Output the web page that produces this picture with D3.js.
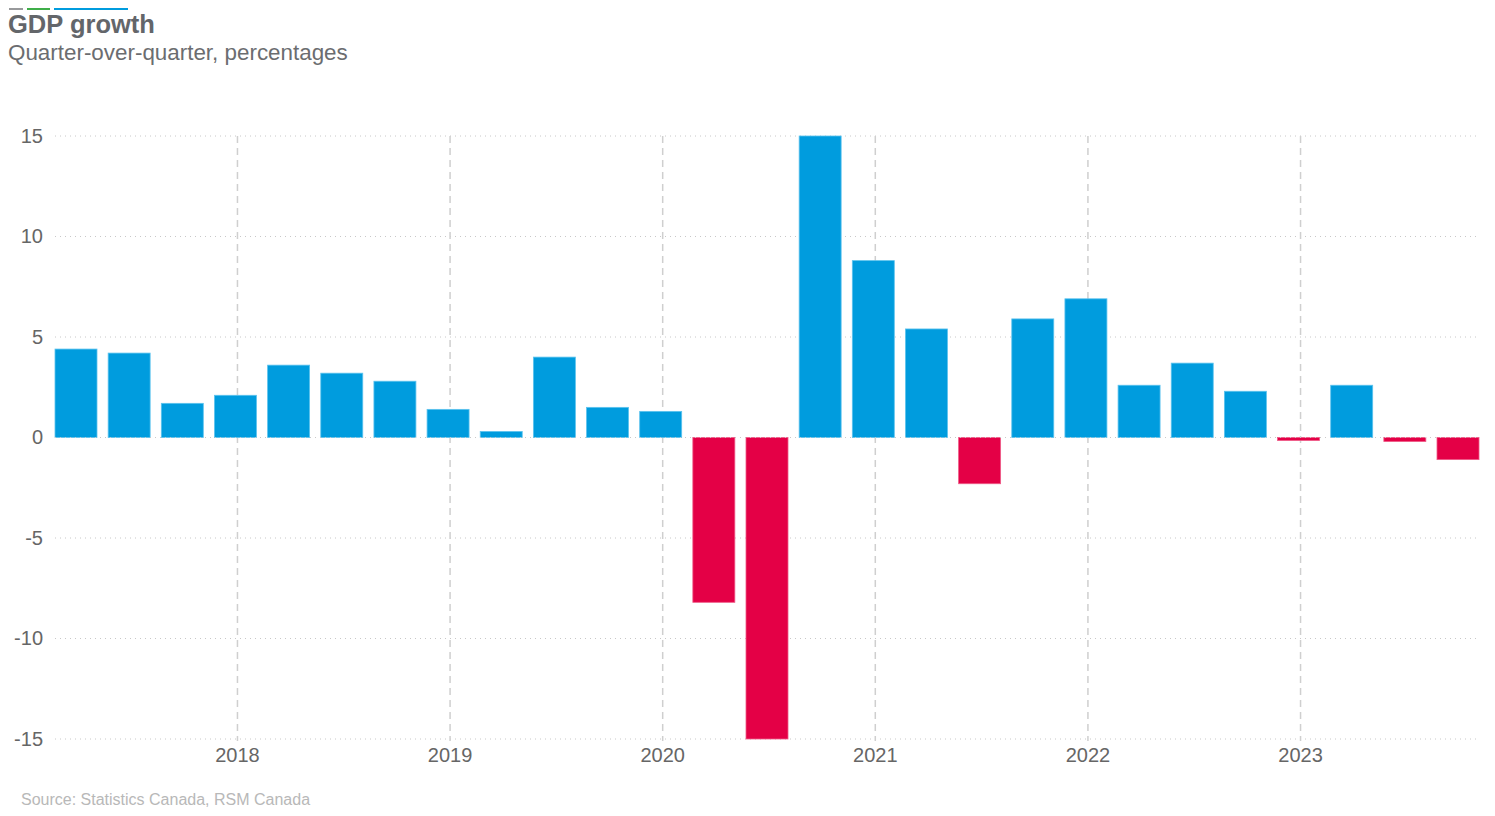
<!DOCTYPE html>
<html>
<head>
<meta charset="utf-8">
<script src="https://cdn.jsdelivr.net/npm/d3@7"></script>
<style>
  html, body { margin: 0; padding: 0; background: #fff; }
  svg { display: block; font-family: "Liberation Sans", Arial, sans-serif; }
</style>
</head>
<body>
<svg id="chart" width="1495" height="816"></svg>
<script>
// ---- data ----
const quarters = [
  "2017-Q2","2017-Q3","2017-Q4",
  "2018-Q1","2018-Q2","2018-Q3","2018-Q4",
  "2019-Q1","2019-Q2","2019-Q3","2019-Q4",
  "2020-Q1","2020-Q2","2020-Q3","2020-Q4",
  "2021-Q1","2021-Q2","2021-Q3","2021-Q4",
  "2022-Q1","2022-Q2","2022-Q3","2022-Q4",
  "2023-Q1","2023-Q2","2023-Q3","2023-Q4"
];
const growth = [
  4.4, 4.2, 1.7,
  2.1, 3.6, 3.2, 2.8,
  1.4, 0.3, 4.0, 1.5,
  1.3, -8.2, -15, 15,
  8.8, 5.4, -2.3, 5.9,
  6.9, 2.6, 3.7, 2.3,
  -0.15, 2.6, -0.2, -1.1
];
const yTicks = [15, 10, 5, 0, -5, -10, -15];
const yearTicks = ["2018-Q1","2019-Q1","2020-Q1","2021-Q1","2022-Q1","2023-Q1"];
const yearLabels = ["2018","2019","2020","2021","2022","2023"];
const title = "GDP growth";
const subtitle = "Quarter-over-quarter, percentages";
const source = "Source: Statistics Canada, RSM Canada";

(function () {
// ---- layout ----
const svg = d3.select("#chart");
const pL = 55, pR = 1479, pT = 136, pB = 739;
const tickShift = 2;

const x = d3.scaleBand().domain(quarters).range([pL, pR]).paddingInner(0.21).paddingOuter(0);
const y = d3.scaleLinear().domain([-15, 15]).range([pB, pT]);

// header
const hdr = svg.append("g");
hdr.append("rect").attr("x", 9).attr("y", 8).attr("width", 14).attr("height", 2).attr("fill", "#98999b");
hdr.append("rect").attr("x", 27).attr("y", 8).attr("width", 23).attr("height", 2).attr("fill", "#3fae49");
hdr.append("rect").attr("x", 54).attr("y", 8).attr("width", 74).attr("height", 2).attr("fill", "#009cde");
hdr.append("text").attr("x", 8).attr("y", 33).text(title)
  .attr("font-size", 25.5).attr("font-weight", "bold").attr("fill", "#63666a");
hdr.append("text").attr("x", 8).attr("y", 60).text(subtitle)
  .attr("font-size", 22.4).attr("fill", "#6b6d70");

// horizontal dotted gridlines
svg.append("g").selectAll("line").data(yTicks.filter(d => d !== 0)).join("line")
  .attr("x1", pL).attr("x2", pR + 1)
  .attr("y1", d => y(d)).attr("y2", d => y(d))
  .attr("stroke", "#c8c8c8").attr("stroke-width", 1).attr("stroke-dasharray", "1,4");

// vertical dashed year lines
svg.append("g").selectAll("line").data(yearTicks).join("line")
  .attr("x1", d => x(d) + x.bandwidth() / 2 + tickShift).attr("x2", d => x(d) + x.bandwidth() / 2 + tickShift)
  .attr("y1", pT).attr("y2", pB + 2)
  .attr("stroke", "#cfcfcf").attr("stroke-width", 1.5).attr("stroke-dasharray", "7,5");

// bars
svg.append("g").selectAll("rect").data(quarters).join("rect")
  .attr("x", d => x(d))
  .attr("width", x.bandwidth())
  .attr("y", (d, i) => y(Math.max(0, growth[i])))
  .attr("height", (d, i) => Math.abs(y(growth[i]) - y(0)))
  .attr("fill", (d, i) => growth[i] >= 0 ? "#009cde" : "#e40046")
  .attr("stroke", (d, i) => growth[i] >= 0 ? "#5cc3ee" : "#ee5a87")
  .attr("stroke-width", 0.8);

// zero line on top
svg.append("line").attr("x1", pL).attr("x2", pR + 1)
  .attr("y1", y(0)).attr("y2", y(0))
  .attr("stroke", "#c8c8c8").attr("stroke-width", 1).attr("stroke-dasharray", "1,4");

// y axis labels
const yAxis = d3.axisLeft(y).tickValues(yTicks).tickSize(0).tickPadding(0).tickFormat(d => String(d));
const gy = svg.append("g").attr("transform", "translate(43,0)").call(yAxis);
gy.select(".domain").remove();
gy.selectAll("text").attr("font-size", 20).attr("fill", "#666").attr("font-family", "Liberation Sans, Arial, sans-serif");

// x axis labels
const xAxis = d3.axisBottom(x).tickValues(yearTicks).tickSize(0).tickPadding(0)
  .tickFormat(d => yearLabels[yearTicks.indexOf(d)]);
const gx = svg.append("g").attr("transform", `translate(${tickShift},${pB + 9})`).call(xAxis);
gx.select(".domain").remove();
gx.selectAll("text").attr("font-size", 20).attr("fill", "#666").attr("font-family", "Liberation Sans, Arial, sans-serif");

// source
svg.append("text").attr("x", 21).attr("y", 805).text(source)
  .attr("font-size", 16).attr("fill", "#b8b8b8");
})();
</script>
</body>
</html>
